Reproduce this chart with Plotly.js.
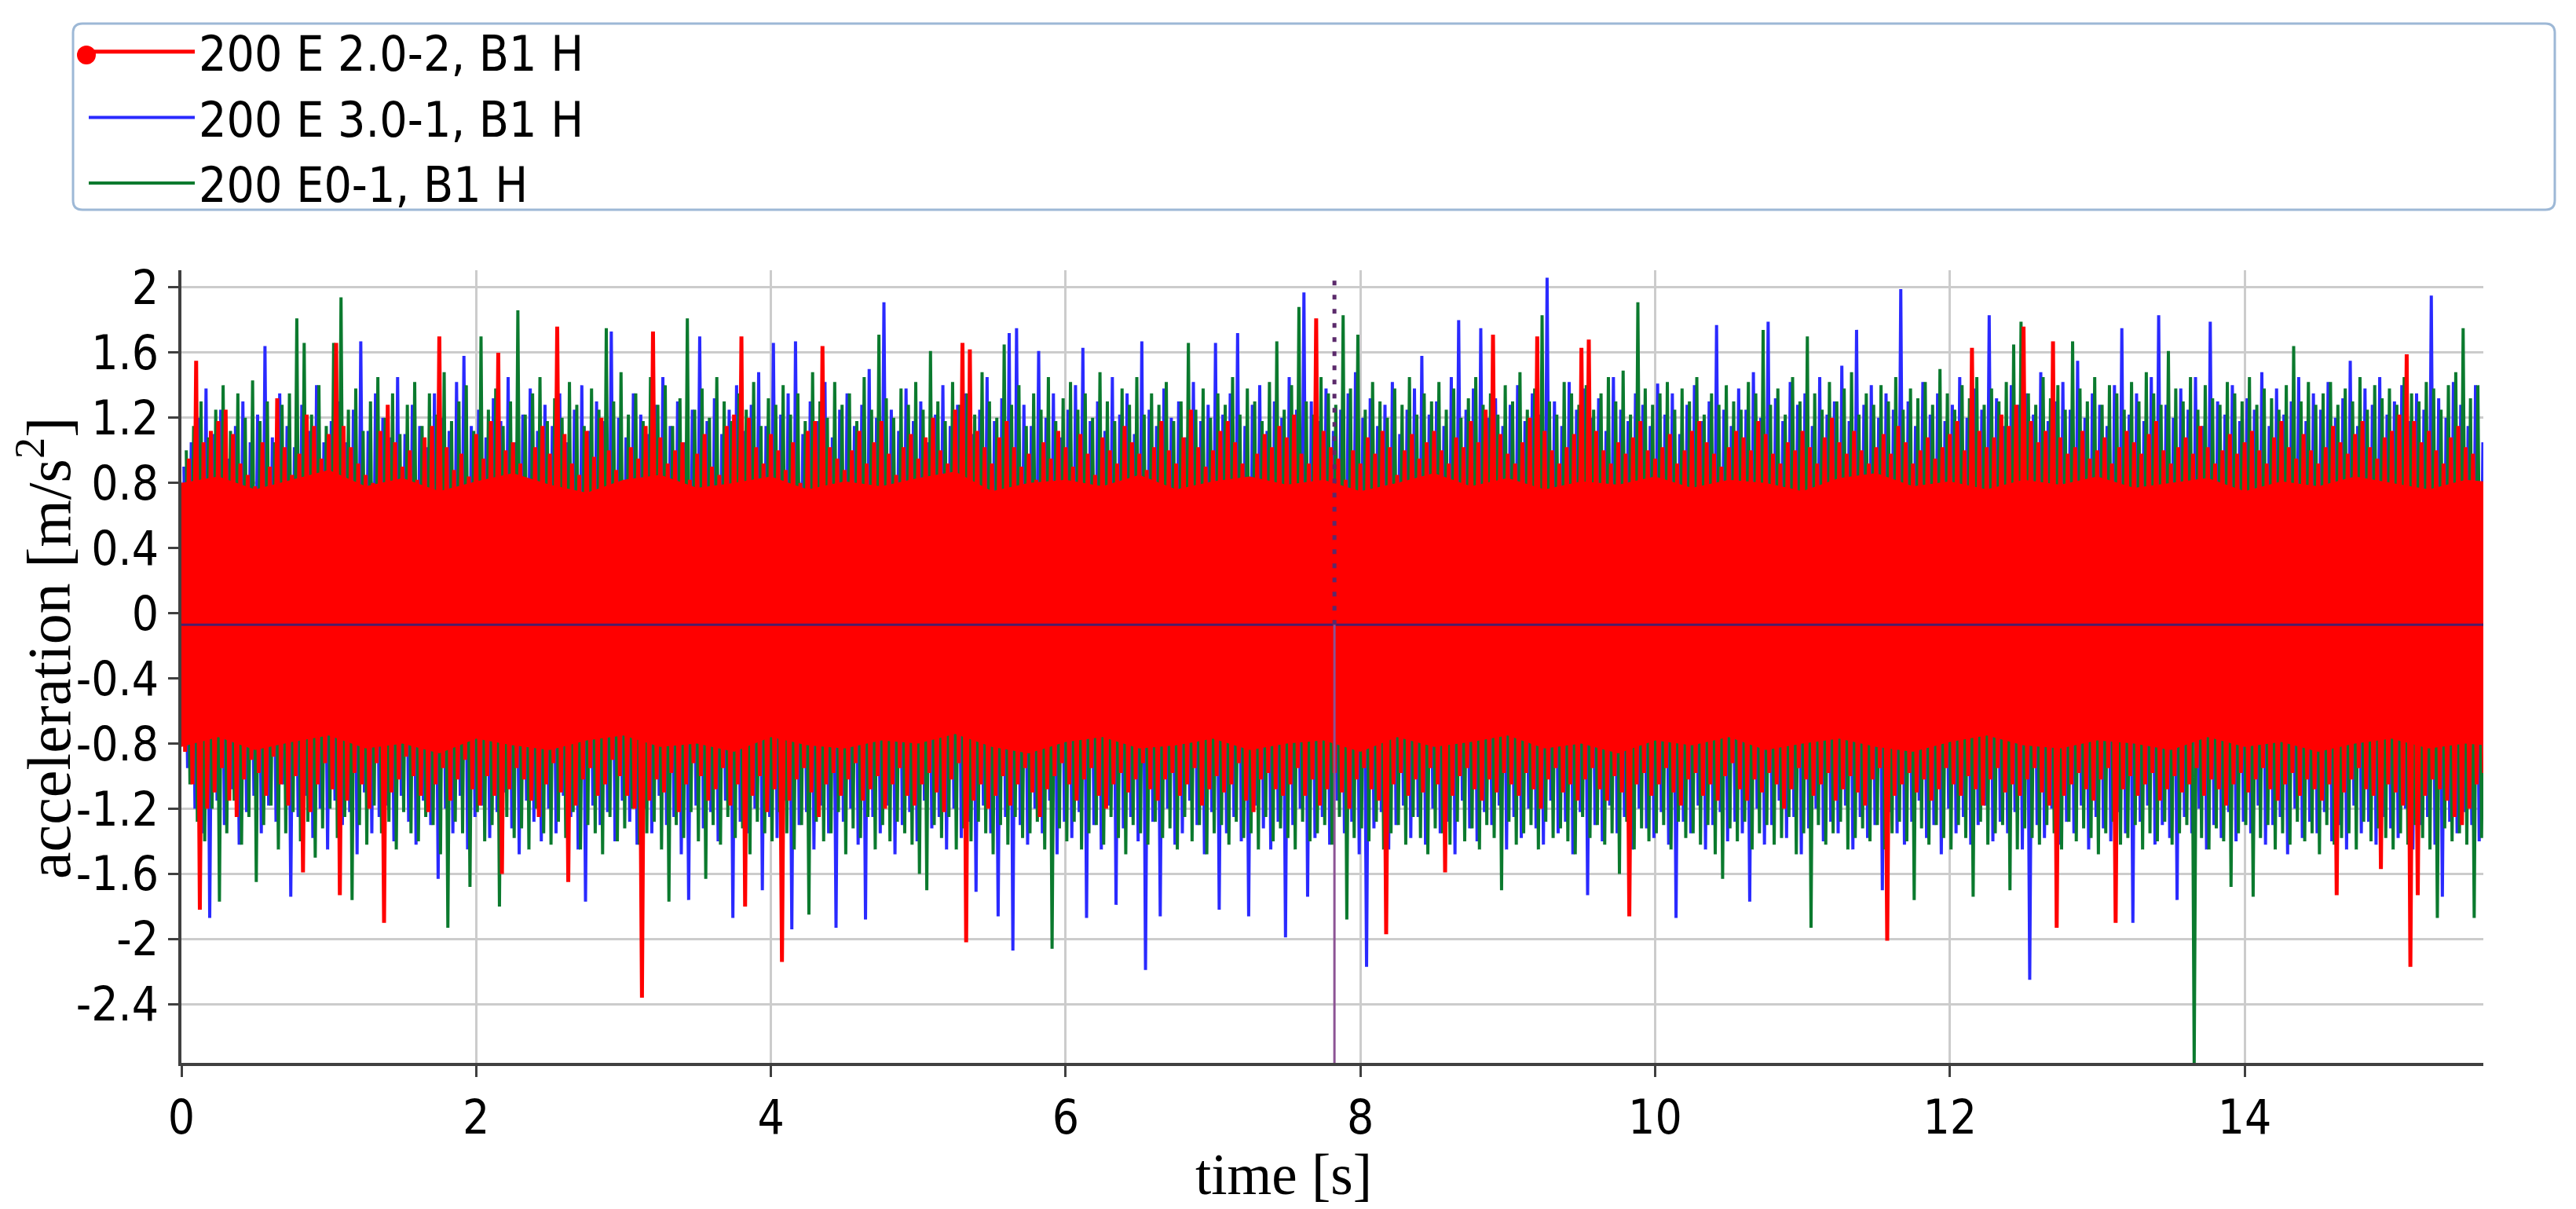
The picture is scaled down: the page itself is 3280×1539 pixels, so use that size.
<!DOCTYPE html>
<html>
<head>
<meta charset="utf-8">
<script src="https://cdn.plot.ly/plotly-3.0.1.min.js"></script>
<style>html,body{margin:0;padding:0;background:#ffffff;}</style>
</head>
<body>
<div id="chart" style="width:3280px;height:1539px;"></div>
<script>
// ---- chart values ----
const sampleStep = 0.05; // s between successive peak pairs
const bandStep = 0.25;   // s between readings of the solid red band edge
const seriesNames = ["200 E 2.0-2, B1 H", "200 E 3.0-1, B1 H", "200 E0-1, B1 H"];
const tickValsX = [0, 2, 4, 6, 8, 10, 12, 14];
const tickTextX = ["0", "2", "4", "6", "8", "10", "12", "14"];
const tickValsY = [2, 1.6, 1.2, 0.8, 0.4, 0, -0.4, -0.8, -1.2, -1.6, -2, -2.4];
const tickTextY = ["2", "1.6", "1.2", "0.8", "0.4", "0", "-0.4", "-0.8", "-1.2", "-1.6", "-2", "-2.4"];
const cursorTime = 7.824;
const baselineLevel = -0.07;

// red: 200 E 2.0-2 — upper / lower peaks
const redHigh = [
0.80,0.95,1.55,1.05,1.12,1.18,1.25,1.10,0.92,0.85,
0.78,1.05,0.90,1.32,1.02,0.85,0.98,1.22,1.15,0.95,
1.10,1.66,1.15,1.02,0.92,0.85,0.80,1.12,1.28,1.05,
0.90,1.00,0.82,1.08,1.15,1.70,1.02,0.88,0.98,0.84,
1.10,0.95,1.18,1.60,1.00,1.05,0.92,0.78,1.02,1.15,
0.98,1.76,1.10,0.92,0.85,1.12,0.96,1.20,1.00,0.88,
0.80,1.02,0.95,1.15,1.73,1.08,0.92,1.00,1.05,0.82,
0.98,1.10,0.90,0.85,1.15,1.22,1.70,1.20,1.02,0.92,
1.10,1.00,0.88,1.05,0.80,1.12,1.18,1.64,1.02,0.95,
0.88,1.00,1.12,0.92,1.05,1.18,0.98,0.85,1.02,1.10,
0.95,1.08,1.20,1.00,0.92,1.25,1.66,1.62,1.12,1.02,
0.92,1.08,1.18,1.02,0.90,0.98,0.82,1.05,0.95,1.12,
1.02,0.90,1.10,0.98,0.85,1.08,1.00,0.92,1.15,1.05,
0.98,0.88,1.02,1.18,1.00,0.92,1.08,1.25,1.02,0.90,
1.00,1.12,1.18,1.05,0.92,0.82,0.98,1.10,1.02,1.15,
1.08,1.22,0.98,0.92,1.81,1.12,1.02,0.95,0.82,1.00,
0.92,1.08,0.98,1.12,1.02,0.85,1.00,1.10,0.95,1.05,
1.12,1.00,0.92,1.08,1.02,1.18,1.05,1.25,1.71,1.10,
0.98,0.92,1.05,1.20,1.70,1.12,1.00,0.92,1.02,1.10,
1.63,1.68,1.12,1.00,0.92,1.05,0.98,1.08,1.18,1.00,
0.95,1.02,1.10,0.92,1.00,1.12,1.18,1.05,0.98,0.90,
1.02,1.12,1.08,1.00,1.18,1.10,0.98,0.92,1.05,1.00,
1.12,1.02,0.92,1.08,1.20,1.05,0.98,1.12,1.00,0.92,
1.02,1.10,0.98,1.15,1.05,0.92,1.00,1.08,0.95,1.02,
1.10,1.18,1.00,1.63,1.12,1.02,1.08,1.22,1.15,1.28,
1.76,1.18,1.05,1.12,1.67,1.08,0.98,1.02,1.12,0.95,
1.00,1.08,0.92,1.02,1.12,1.05,0.98,1.10,1.18,1.00,
0.92,1.02,1.08,0.98,1.15,1.02,0.92,1.00,1.10,0.98,
1.05,1.12,1.00,0.92,1.08,1.18,1.02,0.95,1.10,1.00,
0.92,1.02,1.15,1.05,0.98,1.10,1.18,1.02,0.95,1.08,
1.12,1.22,1.59,1.18,1.05,1.12,1.00,0.92,1.08,1.15,
1.02,0.98,0.80];
const redLow = [
-0.85,-1.05,-1.82,-1.20,-1.10,-0.95,-1.15,-1.25,-1.02,-0.90,
-0.98,-1.12,-0.88,-1.05,-1.18,-1.00,-1.59,-1.22,-1.05,-0.92,
-1.08,-1.73,-1.15,-0.98,-1.05,-1.20,-0.92,-1.90,-1.10,-1.02,
-0.88,-1.00,-1.12,-1.22,-1.05,-0.95,-1.15,-1.02,-0.90,-1.08,
-1.18,-1.00,-1.12,-1.60,-1.08,-0.95,-1.02,-1.15,-1.25,-1.05,
-0.92,-1.10,-1.65,-1.18,-1.02,-0.95,-1.12,-1.05,-0.90,-1.00,
-1.12,-1.20,-2.36,-1.15,-1.02,-1.10,-0.98,-1.22,-1.05,-0.92,
-1.00,-1.15,-1.08,-0.95,-1.18,-1.05,-1.80,-1.12,-1.00,-1.22,
-1.08,-2.14,-1.15,-1.02,-0.95,-1.10,-1.25,-1.05,-0.98,-1.12,
-1.02,-0.92,-1.15,-1.08,-1.00,-1.20,-1.05,-0.95,-1.12,-1.18,
-1.05,-0.98,-1.10,-1.22,-1.02,-0.92,-2.02,-1.15,-1.05,-1.20,
-1.12,-1.00,-1.18,-1.05,-0.95,-1.10,-1.25,-1.08,-1.00,-0.92,
-1.05,-1.15,-1.02,-0.95,-1.12,-1.20,-1.05,-0.98,-1.10,-1.02,
-0.92,-1.08,-1.15,-1.02,-0.98,-1.12,-1.05,-0.95,-1.18,-1.08,
-1.00,-1.10,-1.05,-0.92,-1.15,-1.22,-1.02,-0.98,-1.08,-1.12,
-1.05,-0.95,-1.12,-1.02,-1.18,-1.08,-0.98,-1.10,-1.20,-1.02,
-0.95,-1.08,-1.15,-1.97,-1.05,-0.98,-1.12,-1.02,-1.10,-0.95,
-1.05,-1.59,-1.12,-1.00,-0.95,-1.08,-1.15,-1.02,-1.10,-0.98,
-1.05,-1.12,-0.98,-1.08,-1.20,-1.02,-0.95,-1.10,-1.05,-1.15,
-1.02,-0.95,-1.08,-1.15,-1.00,-1.10,-1.86,-1.05,-0.98,-1.12,
-1.05,-0.95,-1.10,-1.18,-1.02,-0.98,-1.12,-1.05,-1.15,-1.00,
-0.92,-1.08,-1.15,-1.02,-1.10,-0.98,-1.05,-1.20,-1.08,-0.95,
-1.02,-1.12,-1.05,-0.98,-1.15,-1.08,-1.00,-1.10,-1.18,-1.02,
-0.95,-2.01,-1.12,-1.05,-0.98,-1.10,-1.02,-1.15,-1.08,-0.95,
-1.05,-1.12,-1.00,-1.08,-1.18,-1.02,-0.95,-1.10,-1.05,-1.12,
-1.02,-0.95,-1.10,-1.18,-1.93,-1.12,-1.05,-0.98,-1.08,-1.15,
-1.02,-0.95,-1.90,-1.08,-1.00,-1.12,-1.05,-0.98,-1.15,-1.08,
-1.00,-1.10,-1.05,-0.95,-1.12,-1.02,-1.08,-1.18,-1.05,-0.98,
-1.10,-1.02,-0.95,-1.08,-1.15,-1.05,-0.98,-1.12,-1.02,-1.08,
-1.15,-1.05,-1.73,-1.10,-1.02,-0.95,-1.08,-1.12,-1.57,-1.05,
-1.10,-1.18,-2.17,-1.73,-1.12,-1.02,-1.08,-1.15,-1.25,-1.30,
-1.20,-1.05,-0.98];

// edge of the solid (fully red) band, read every 0.25 s
const redSolidTop = [
0.80,0.84,0.76,0.82,0.88,0.78,0.83,0.75,0.81,0.86,
0.79,0.74,0.82,0.85,0.77,0.80,0.84,0.76,0.81,0.78,
0.83,0.87,0.75,0.80,0.82,0.78,0.85,0.76,0.81,0.84,
0.79,0.82,0.75,0.80,0.86,0.78,0.83,0.76,0.81,0.79,
0.84,0.77,0.82,0.80,0.75,0.83,0.86,0.78,0.81,0.76,
0.82,0.79,0.84,0.77,0.80,0.83,0.75,0.81,0.78,0.84,
0.80,0.76,0.82,0.80];
const redSolidBottom = [
-0.82,-0.76,-0.84,-0.79,-0.75,-0.83,-0.80,-0.86,-0.77,-0.81,
-0.84,-0.78,-0.75,-0.82,-0.80,-0.85,-0.76,-0.81,-0.83,-0.78,
-0.80,-0.74,-0.82,-0.86,-0.79,-0.76,-0.83,-0.81,-0.77,-0.84,
-0.80,-0.78,-0.85,-0.76,-0.82,-0.79,-0.75,-0.83,-0.80,-0.86,
-0.78,-0.81,-0.76,-0.84,-0.80,-0.77,-0.82,-0.85,-0.79,-0.75,
-0.81,-0.83,-0.78,-0.80,-0.84,-0.76,-0.82,-0.79,-0.85,-0.80,
-0.77,-0.83,-0.80,-0.82];

// blue: 200 E 3.0-1 — upper / lower peaks
const blueHigh = [
0.90,1.05,1.20,1.38,1.10,1.25,0.95,1.15,1.30,1.05,
1.22,1.64,1.08,1.35,1.15,1.02,1.28,1.12,1.40,1.05,
1.18,1.30,1.05,1.25,1.67,1.12,1.35,1.20,1.08,1.45,
1.10,1.28,1.15,1.02,1.35,1.20,1.12,1.42,1.58,1.15,
1.25,1.08,1.32,1.18,1.45,1.05,1.22,1.38,1.12,1.28,
1.15,1.35,1.05,1.25,1.40,1.12,1.30,1.18,1.73,1.20,
1.08,1.35,1.22,1.10,1.28,1.45,1.15,1.30,1.05,1.25,
1.70,1.18,1.32,1.10,1.25,1.40,1.12,1.28,1.48,1.15,
1.66,1.22,1.35,1.67,1.10,1.30,1.18,1.42,1.08,1.25,
1.35,1.15,1.28,1.50,1.20,1.91,1.25,1.12,1.38,1.18,
1.30,1.05,1.22,1.40,1.15,1.28,1.35,1.10,1.25,1.45,
1.18,1.32,1.72,1.75,1.28,1.15,1.61,1.20,1.35,1.08,
1.25,1.40,1.63,1.18,1.30,1.12,1.45,1.22,1.35,1.10,
1.67,1.25,1.15,1.38,1.20,1.30,1.08,1.42,1.18,1.28,
1.66,1.22,1.35,1.72,1.15,1.28,1.40,1.12,1.30,1.20,
1.45,1.25,1.97,1.30,1.18,1.38,1.12,1.25,1.35,1.48,
1.20,1.32,1.15,1.28,1.42,1.10,1.25,1.38,1.58,1.22,
1.30,1.15,1.45,1.80,1.25,1.38,1.75,1.20,1.32,1.15,
1.28,1.40,1.18,1.35,1.22,2.06,1.30,1.15,1.42,1.25,
1.38,1.20,1.32,1.12,1.45,1.25,1.18,1.35,1.28,1.15,
1.41,1.22,1.35,1.10,1.28,1.40,1.18,1.30,1.77,1.25,
1.15,1.38,1.25,1.48,1.20,1.79,1.32,1.18,1.42,1.28,
1.35,1.15,1.45,1.22,1.30,1.52,1.18,1.74,1.28,1.40,
1.20,1.35,1.25,1.99,1.30,1.15,1.42,1.22,1.35,1.18,
1.28,1.45,1.20,1.38,1.25,1.83,1.32,1.15,1.40,1.28,
1.35,1.22,1.48,1.18,1.30,1.42,1.25,1.55,1.20,1.35,
1.28,1.15,1.40,1.75,1.22,1.35,1.18,1.45,1.83,1.28,
1.20,1.38,1.25,1.45,1.15,1.79,1.30,1.22,1.40,1.18,
1.32,1.25,1.48,1.15,1.38,1.22,1.30,1.45,1.18,1.35,
1.25,1.42,1.20,1.32,1.55,1.15,1.38,1.28,1.45,1.22,
1.30,1.40,1.18,1.35,1.25,1.95,1.32,1.20,1.42,1.28,
1.15,1.40,1.05];
const blueLow = [
-0.95,-1.20,-1.35,-1.87,-1.15,-1.30,-1.08,-1.42,-1.22,-1.12,
-1.35,-1.18,-1.28,-1.05,-1.74,-1.25,-1.12,-1.38,-1.20,-1.45,
-1.15,-1.30,-1.22,-1.48,-1.10,-1.35,-1.25,-1.18,-1.40,-1.12,
-1.28,-1.42,-1.15,-1.30,-1.63,-1.20,-1.35,-1.12,-1.45,-1.25,
-1.18,-1.38,-1.22,-1.10,-1.32,-1.48,-1.15,-1.28,-1.40,-1.20,
-1.35,-1.12,-1.25,-1.45,-1.77,-1.18,-1.30,-1.22,-1.40,-1.15,
-1.28,-1.42,-1.20,-1.35,-1.12,-1.30,-1.25,-1.48,-1.76,-1.18,
-1.32,-1.22,-1.40,-1.15,-1.87,-1.28,-1.35,-1.20,-1.70,-1.25,
-1.38,-1.15,-1.94,-1.30,-1.22,-1.45,-1.18,-1.35,-1.93,-1.28,
-1.20,-1.42,-1.88,-1.25,-1.35,-1.18,-1.48,-1.30,-1.22,-1.40,
-1.15,-1.32,-1.25,-1.45,-1.20,-1.38,-1.28,-1.71,-1.18,-1.35,
-1.86,-1.25,-2.07,-1.30,-1.42,-1.20,-1.35,-1.15,-1.48,-1.28,
-1.38,-1.22,-1.87,-1.30,-1.45,-1.18,-1.79,-1.32,-1.25,-1.40,
-2.19,-1.28,-1.86,-1.20,-1.42,-1.35,-1.15,-1.30,-1.48,-1.22,
-1.82,-1.35,-1.25,-1.40,-1.86,-1.18,-1.32,-1.45,-1.28,-1.99,
-1.30,-1.20,-1.74,-1.38,-1.25,-1.42,-1.15,-1.35,-1.28,-1.48,
-2.17,-1.32,-1.22,-1.45,-1.30,-1.18,-1.38,-1.25,-1.42,-1.20,
-1.35,-1.28,-1.48,-1.15,-1.32,-1.40,-1.22,-1.30,-1.18,-1.45,
-1.25,-1.38,-1.20,-1.32,-1.42,-1.15,-1.35,-1.28,-1.48,-1.22,
-1.73,-1.30,-1.40,-1.18,-1.35,-1.25,-1.45,-1.20,-1.32,-1.38,
-1.22,-1.42,-1.87,-1.28,-1.35,-1.18,-1.45,-1.30,-1.22,-1.40,
-1.28,-1.35,-1.77,-1.20,-1.42,-1.30,-1.15,-1.38,-1.25,-1.48,
-1.32,-1.20,-1.40,-1.28,-1.35,-1.18,-1.45,-1.25,-1.38,-1.30,
-1.70,-1.22,-1.35,-1.42,-1.28,-1.15,-1.38,-1.30,-1.48,-1.20,
-1.35,-1.25,-1.42,-1.30,-1.18,-1.40,-1.28,-1.35,-1.22,-1.45,
-2.25,-1.30,-1.38,-1.20,-1.42,-1.28,-1.35,-1.18,-1.45,-1.25,
-1.32,-1.40,-1.22,-1.35,-1.90,-1.28,-1.18,-1.42,-1.30,-1.38,
-1.76,-1.25,-1.35,-1.20,-1.45,-1.30,-1.38,-1.22,-1.40,-1.28,
-1.35,-1.18,-1.42,-1.30,-1.25,-1.48,-1.20,-1.38,-1.28,-1.35,
-1.22,-1.40,-1.30,-1.45,-1.18,-1.35,-1.28,-1.42,-1.25,-1.32,
-1.38,-1.20,-1.45,-1.30,-1.25,-1.42,-1.74,-1.28,-1.35,-1.22,
-1.30,-1.40,-1.15];

// green: 200 E0-1 — upper / lower peaks
const greenHigh = [
1.00,1.15,1.30,1.08,1.25,1.40,1.12,1.35,1.20,1.43,
1.18,1.30,1.05,1.28,1.35,1.81,1.66,1.22,1.40,1.15,
1.66,1.94,1.25,1.38,1.12,1.30,1.45,1.20,1.35,1.10,
1.28,1.42,1.15,1.35,1.22,1.48,1.18,1.30,1.40,1.12,
1.70,1.25,1.38,1.15,1.30,1.86,1.22,1.35,1.45,1.18,
1.32,1.20,1.42,1.28,1.15,1.38,1.25,1.75,1.30,1.48,
1.22,1.35,1.18,1.45,1.28,1.40,1.15,1.32,1.81,1.25,
1.38,1.20,1.45,1.30,1.18,1.35,1.25,1.42,1.15,1.32,
1.28,1.40,1.22,1.35,1.18,1.48,1.30,1.20,1.42,1.28,
1.35,1.18,1.45,1.25,1.71,1.32,1.20,1.38,1.28,1.42,
1.25,1.61,1.30,1.18,1.42,1.28,1.35,1.22,1.48,1.30,
1.20,1.65,1.28,1.40,1.15,1.35,1.25,1.45,1.18,1.32,
1.42,1.25,1.35,1.20,1.48,1.30,1.18,1.38,1.28,1.45,
1.22,1.35,1.28,1.42,1.18,1.30,1.66,1.25,1.38,1.20,
1.35,1.28,1.45,1.22,1.38,1.30,1.18,1.42,1.67,1.25,
1.40,1.88,1.30,1.22,1.45,1.35,1.28,1.83,1.38,1.71,
1.25,1.42,1.30,1.20,1.38,1.28,1.45,1.22,1.35,1.30,
1.42,1.25,1.38,1.20,1.32,1.45,1.28,1.35,1.22,1.40,
1.30,1.48,1.25,1.38,1.83,1.30,1.22,1.42,1.35,1.28,
1.40,1.25,1.35,1.45,1.30,1.49,1.22,1.91,1.38,1.28,
1.35,1.42,1.25,1.38,1.30,1.45,1.22,1.35,1.28,1.40,
1.30,1.25,1.42,1.35,1.74,1.28,1.38,1.22,1.45,1.30,
1.70,1.35,1.25,1.42,1.30,1.38,1.48,1.22,1.35,1.28,
1.40,1.30,1.45,1.25,1.38,1.32,1.42,1.28,1.50,1.35,
1.25,1.40,1.32,1.45,1.28,1.38,1.30,1.42,1.65,1.79,
1.35,1.28,1.45,1.32,1.40,1.25,1.67,1.38,1.30,1.45,
1.28,1.40,1.35,1.25,1.42,1.30,1.48,1.35,1.28,1.61,
1.38,1.30,1.45,1.25,1.40,1.32,1.28,1.42,1.35,1.30,
1.45,1.28,1.38,1.32,1.25,1.40,1.64,1.30,1.42,1.28,
1.35,1.42,1.28,1.38,1.30,1.45,1.25,1.40,1.32,1.38,
1.28,1.45,1.35,1.30,1.42,1.38,1.25,1.40,1.48,1.75,
1.32,1.40,1.10];
const greenLow = [
-1.05,-1.28,-1.40,-1.20,-1.77,-1.35,-1.15,-1.42,-1.25,-1.65,
-1.30,-1.18,-1.45,-1.35,-1.22,-1.40,-1.28,-1.50,-1.32,-1.20,
-1.38,-1.25,-1.76,-1.30,-1.42,-1.18,-1.35,-1.28,-1.45,-1.22,
-1.35,-1.40,-1.25,-1.30,-1.48,-1.93,-1.28,-1.35,-1.68,-1.22,
-1.40,-1.30,-1.80,-1.25,-1.38,-1.32,-1.45,-1.20,-1.35,-1.42,
-1.28,-1.38,-1.22,-1.45,-1.30,-1.35,-1.48,-1.25,-1.40,-1.32,
-1.20,-1.42,-1.35,-1.28,-1.45,-1.77,-1.30,-1.38,-1.22,-1.40,
-1.63,-1.30,-1.42,-1.25,-1.38,-1.32,-1.48,-1.28,-1.35,-1.40,
-1.22,-1.35,-1.45,-1.30,-1.85,-1.28,-1.40,-1.35,-1.22,-1.48,
-1.32,-1.38,-1.25,-1.45,-1.30,-1.40,-1.28,-1.35,-1.42,-1.60,
-1.70,-1.30,-1.38,-1.25,-1.45,-1.32,-1.40,-1.28,-1.35,-1.48,
-1.30,-1.42,-1.25,-1.38,-1.35,-1.28,-1.45,-2.06,-1.32,-1.40,
-1.28,-1.45,-1.35,-1.30,-1.42,-1.25,-1.38,-1.48,-1.30,-1.35,
-1.42,-1.28,-1.38,-1.32,-1.45,-1.25,-1.40,-1.30,-1.48,-1.35,
-1.30,-1.42,-1.28,-1.38,-1.35,-1.45,-1.25,-1.40,-1.32,-1.38,
-1.45,-1.28,-1.40,-1.35,-1.30,-1.42,-1.25,-1.88,-1.38,-1.32,
-1.40,-1.28,-1.45,-1.35,-1.30,-1.42,-1.25,-1.38,-1.48,-1.32,
-1.35,-1.42,-1.28,-1.40,-1.32,-1.45,-1.30,-1.38,-1.70,-1.28,
-1.42,-1.35,-1.30,-1.45,-1.28,-1.38,-1.32,-1.40,-1.48,-1.25,
-1.38,-1.30,-1.42,-1.35,-1.60,-1.28,-1.45,-1.32,-1.40,-1.35,
-1.30,-1.45,-1.28,-1.38,-1.35,-1.42,-1.30,-1.48,-1.63,-1.32,
-1.40,-1.28,-1.45,-1.35,-1.30,-1.42,-1.38,-1.25,-1.48,-1.35,
-1.93,-1.30,-1.42,-1.35,-1.28,-1.45,-1.38,-1.32,-1.40,-1.30,
-1.45,-1.35,-1.28,-1.40,-1.76,-1.32,-1.42,-1.30,-1.38,-1.45,
-1.30,-1.38,-1.74,-1.28,-1.42,-1.35,-1.30,-1.70,-1.45,-1.32,
-1.38,-1.42,-1.30,-1.35,-1.45,-1.28,-1.40,-1.32,-1.38,-1.48,
-1.35,-1.28,-1.42,-1.38,-1.30,-1.45,-1.35,-1.40,-1.28,-1.42,
-1.35,-1.30,-2.76,-1.38,-1.45,-1.32,-1.40,-1.68,-1.35,-1.30,
-1.74,-1.38,-1.30,-1.45,-1.35,-1.42,-1.28,-1.40,-1.35,-1.48,
-1.30,-1.42,-1.38,-1.35,-1.45,-1.28,-1.40,-1.32,-1.38,-1.45,
-1.35,-1.42,-1.30,-1.38,-1.45,-1.87,-1.32,-1.40,-1.35,-1.42,
-1.87,-1.38,-1.20];

// ---- geometry of the page ----
const W = 3280, H = 1539;
const M = {l: 231, r: 118, t: 344, b: 186};
const plotW = W - M.l - M.r, plotH = H - M.t - M.b;
const px2x = px => (px - M.l) / plotW;
const px2y = py => (H - M.b - py) / plotH;

// peak pairs -> drawn samples (upper peak, then lower peak half a step later)
function zigzag(high, low, offset) {
  const x = [], y = [];
  for (let i = 0; i < high.length; i++) {
    x.push(i * sampleStep + offset); y.push(high[i]);
    x.push(i * sampleStep + offset + sampleStep / 2); y.push(low[i]);
  }
  return {x, y};
}
const redZ = zigzag(redHigh, redLow, 0);
const blueZ = zigzag(blueHigh, blueLow, 0.017);
const greenZ = zigzag(greenHigh, greenLow, 0.033);
const bandTime = redSolidTop.map((_, i) => i * bandStep);

const RED = '#ff0000', BLUE = '#2a2aff', GREEN = '#0b7a2e';

const traces = [
  {x: blueZ.x, y: blueZ.y, type: 'scatter', mode: 'lines', name: seriesNames[1],
   line: {color: BLUE, width: 4}, legendrank: 2},
  {x: greenZ.x, y: greenZ.y, type: 'scatter', mode: 'lines', name: seriesNames[2],
   line: {color: GREEN, width: 4}, legendrank: 3},
  {x: bandTime, y: redSolidTop, type: 'scatter', mode: 'lines', name: seriesNames[0],
   line: {color: RED, width: 0}, showlegend: false},
  {x: bandTime, y: redSolidBottom, type: 'scatter', mode: 'lines', name: seriesNames[0],
   line: {color: RED, width: 0}, fill: 'tonexty', fillcolor: RED, showlegend: false},
  {x: redZ.x, y: redZ.y, type: 'scatter', mode: 'lines', name: seriesNames[0],
   line: {color: RED, width: 5}, legendrank: 1}
];

const tickFont = {family: 'DejaVu Sans Condensed, DejaVu Sans, sans-serif', size: 60, color: '#000000'};

// legend frame (rounded rectangle) in paper units
const box = {l: 93, r: 3253, t: 30, b: 267, rad: 12};
const bx = v => px2x(v).toFixed(5), by = v => px2y(v).toFixed(5);
const framePath =
  'M' + bx(box.l + box.rad) + ',' + by(box.t) +
  ' L' + bx(box.r - box.rad) + ',' + by(box.t) +
  ' Q' + bx(box.r) + ',' + by(box.t) + ' ' + bx(box.r) + ',' + by(box.t + box.rad) +
  ' L' + bx(box.r) + ',' + by(box.b - box.rad) +
  ' Q' + bx(box.r) + ',' + by(box.b) + ' ' + bx(box.r - box.rad) + ',' + by(box.b) +
  ' L' + bx(box.l + box.rad) + ',' + by(box.b) +
  ' Q' + bx(box.l) + ',' + by(box.b) + ' ' + bx(box.l) + ',' + by(box.b - box.rad) +
  ' L' + bx(box.l) + ',' + by(box.t + box.rad) +
  ' Q' + bx(box.l) + ',' + by(box.t) + ' ' + bx(box.l + box.rad) + ',' + by(box.t) + ' Z';

const layout = {
  width: W, height: H,
  margin: M,
  paper_bgcolor: '#ffffff', plot_bgcolor: '#ffffff',
  showlegend: true,
  legend: {
    x: px2x(108), xanchor: 'left', y: px2y(19), yanchor: 'top',
    bgcolor: 'rgba(0,0,0,0)', borderwidth: 0,
    font: {family: 'DejaVu Sans Condensed, DejaVu Sans, sans-serif', size: 62, color: '#000000'},
    itemwidth: 135, traceorder: 'normal'
  },
  xaxis: {
    range: [0, 15.62], tickmode: 'array', tickvals: tickValsX, ticktext: tickTextX,
    showgrid: true, gridcolor: '#cccccc', gridwidth: 3, zeroline: false,
    showline: true, linecolor: '#404040', linewidth: 4,
    ticks: 'outside', ticklen: 14, tickwidth: 3, tickcolor: '#404040',
    tickfont: tickFont
  },
  yaxis: {
    range: [-2.76, 2.106], tickmode: 'array', tickvals: tickValsY, ticktext: tickTextY,
    showgrid: true, gridcolor: '#cccccc', gridwidth: 3, zeroline: false,
    showline: true, linecolor: '#404040', linewidth: 4,
    ticks: 'outside', ticklen: 13, tickwidth: 3, tickcolor: '#404040',
    tickfont: tickFont
  },
  annotations: [
    {text: 'time [s]', xref: 'paper', yref: 'paper', x: px2x(1634), y: px2y(1495),
     xanchor: 'center', yanchor: 'middle', showarrow: false,
     font: {family: 'Liberation Serif, serif', size: 73, color: '#000000'}},
    {text: 'acceleration [m/s<sup>2</sup>]', xref: 'paper', yref: 'paper', x: px2x(56), y: px2y(825),
     xanchor: 'center', yanchor: 'middle', textangle: -90, showarrow: false,
     font: {family: 'Liberation Serif, serif', size: 78, color: '#000000'}}
  ],
  shapes: [
    {type: 'path', xref: 'paper', yref: 'paper', path: framePath,
     line: {color: '#9db8d6', width: 3}, fillcolor: 'rgba(0,0,0,0)'},
    {type: 'line', xref: 'paper', x0: 0, x1: 1, yref: 'y', y0: baselineLevel, y1: baselineLevel,
     line: {color: '#4b1f6b', width: 3}},
    {type: 'line', xref: 'x', x0: cursorTime, x1: cursorTime, yref: 'y', y0: baselineLevel, y1: 2.09,
     line: {color: '#5b2a6b', width: 5, dash: '6px,12px'}},
    {type: 'line', xref: 'x', x0: cursorTime, x1: cursorTime, yref: 'y', y0: -2.76, y1: baselineLevel,
     line: {color: '#8c5494', width: 3}},
    {type: 'circle', xref: 'paper', yref: 'paper',
     x0: px2x(98), x1: px2x(122), y0: px2y(82), y1: px2y(58),
     fillcolor: RED, line: {color: RED, width: 0}}
  ]
};

Plotly.newPlot('chart', traces, layout, {staticPlot: true, displayModeBar: false});
</script>
</body>
</html>
